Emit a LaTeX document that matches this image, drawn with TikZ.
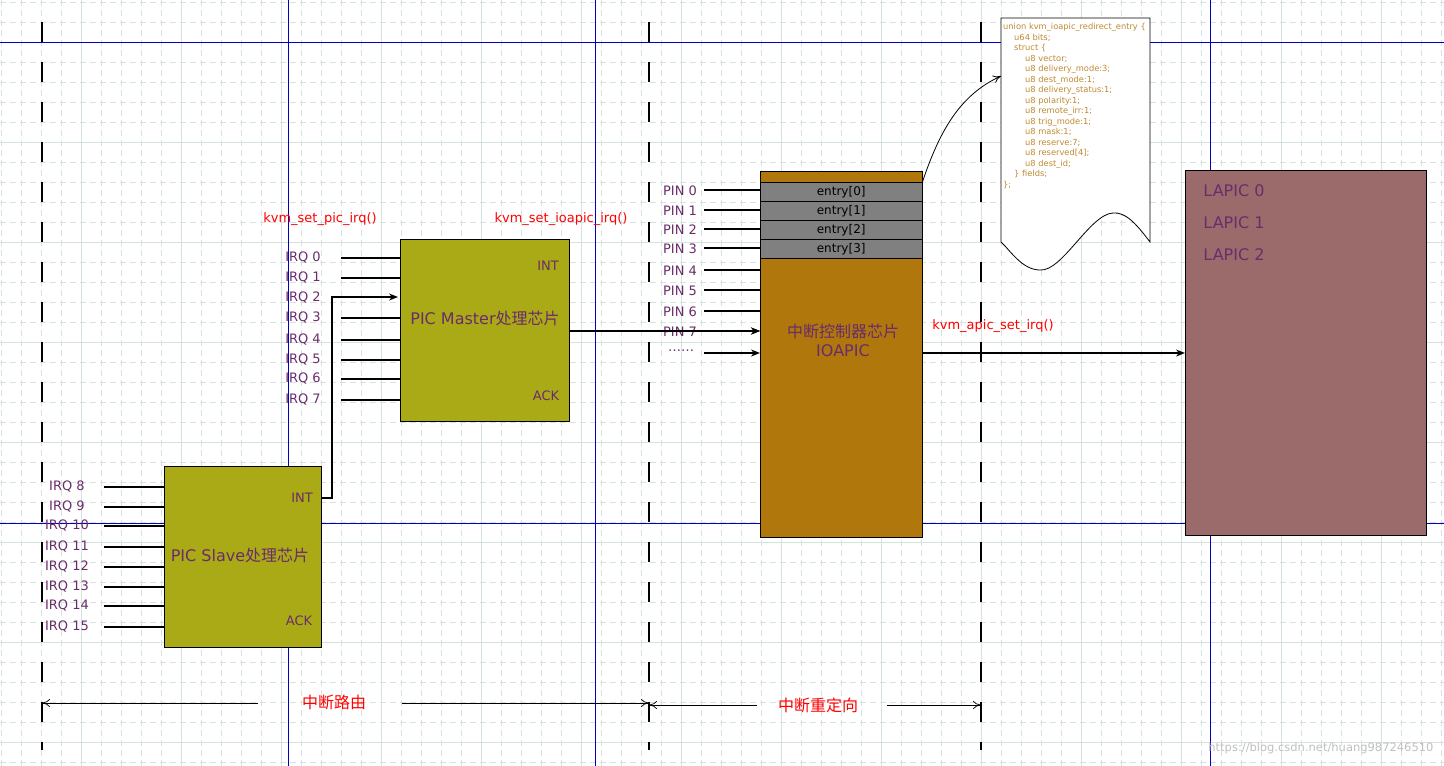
\documentclass[tikz,border=0pt]{standalone}
\usepackage{fontspec}
\setmainfont{DejaVu Sans}
\newfontfamily\cjk{Noto Sans CJK SC}
\usetikzlibrary{positioning,arrows.meta}
\definecolor{gridc}{HTML}{D6E2DE}
\definecolor{guide}{HTML}{0000C0}
\definecolor{olivebox}{HTML}{AAAA17}
\definecolor{ioabox}{HTML}{AF770C}
\definecolor{lapicbox}{HTML}{9B6B6B}
\definecolor{txtc}{HTML}{6A2C6A}
\definecolor{notec}{HTML}{C08A30}
\tikzset{
  chip/.style={draw=black, line width=0.8pt, anchor=north west, inner sep=0pt},
  lbl/.style={text=txtc, font=\fontsize{13}{15}\selectfont, inner sep=1pt},
  fn/.style={text=red, font=\fontsize{13}{15}\selectfont},
  wire/.style={line width=1.6pt},
  link/.style={line width=1.3pt, -{Stealth[length=9pt,width=7pt]}},
  span/.style={line width=0.7pt, -{To[length=8pt,width=8pt]}},
  entry/.style={draw=black, fill=gray, minimum width=162pt, minimum height=19pt,
    anchor=north west, inner sep=0pt, font=\fontsize{12}{14}\selectfont}
}
\begin{document}
\begin{tikzpicture}[x=1pt,y=-1pt]
    \useasboundingbox (0,0) rectangle (1444,766);
    % Grid
    \foreach \x in {1,21,...,1441} \draw[gridc, dashed, dash pattern=on 6pt off 4pt] (\x,0) -- (\x,766);
    \foreach \y in {2,22,...,762} \draw[gridc, dashed, dash pattern=on 6pt off 4pt] (0,\y) -- (1444,\y);
    \foreach \x in {81,181,...,1381} \draw[gridc, line width=1pt] (\x,0) -- (\x,766);
    \foreach \y in {42,142,...,742} \draw[gridc, line width=1pt] (0,\y) -- (1444,\y);
    \draw[guide, line width=1pt] (0,42) -- (1444,42);
    \draw[guide, line width=1pt] (0,523) -- (1444,523);
    \foreach \x in {288,595,1210} \draw[guide, line width=1pt] (\x,0) -- (\x,766);
    \foreach \x in {42,649,981}
        \draw[line width=2pt, dash pattern=on 20pt off 20pt] (\x,22) -- (\x,750);

    % Chips
    \node[chip, fill=olivebox, minimum width=157pt, minimum height=181pt] (slave) at (164,466) {};
    \node[lbl, font=\fontsize{16}{18}\selectfont] (slavet) at (240,555) {PIC Slave{\cjk 处理芯片}};
    \node[lbl] (sint) at (302,498) {INT};
    \node[lbl] (sack) at (299,621) {ACK};
    \node[chip, fill=olivebox, minimum width=169pt, minimum height=182pt] (master) at (400,239) {};
    \node[lbl, font=\fontsize{16}{18}\selectfont] (mastert) at (485,318) {PIC Master{\cjk 处理芯片}};
    \node[lbl] (mint) at (548,266) {INT};
    \node[lbl] (mack) at (546,396) {ACK};
    \node[chip, fill=ioabox, minimum width=162pt, minimum height=366pt] (ioapic) at (760,171) {};
    \foreach \i/\y in {0/182,1/201,2/220,3/239}
        \node[entry] (e\i) at (760,\y) {entry[\i]};
    \node[lbl, align=center, font=\fontsize{16}{19}\selectfont] (ioat) at (843,340) {{\cjk 中断控制器芯片}\\IOAPIC};
    \node[chip, fill=lapicbox, minimum width=241pt, minimum height=365pt] (lapic) at (1185,170) {};
    \foreach \i/\y in {0/191,1/223,2/255}
        \node[lbl, font=\fontsize{16}{18}\selectfont] (lp\i) at (1234,\y) {LAPIC \i};

    % IRQ lines
    \foreach \i/\y in {0/258,1/278,3/318,4/340,5/360,6/379,7/400} {
        \node[lbl] (irq\i) at (303,\y) {IRQ \i};
        \coordinate (w\i) at (341,\y);
        \draw[wire] (w\i) -- (w\i -| master.west);
    }
    \node[lbl] (irq2) at (303,298) {IRQ 2};
    \foreach \i/\y in {8/487,9/507,10/526,11/547,12/567,13/587,14/606,15/627} {
        \node[lbl] (irq\i) at (67,\y) {IRQ \i};
        \coordinate (w\i) at (104,\y);
        \draw[wire] (w\i) -- (w\i -| slave.west);
    }
    \foreach \i/\y in {0/190,1/210,2/229,3/248,4/270,5/290,6/311} {
        \node[lbl] (pin\i) at (680,\y+1) {PIN \i};
        \coordinate (p\i) at (704,\y);
        \draw[wire] (p\i) -- (p\i -| ioapic.west);
    }
    \node[lbl] (pin7) at (680,332) {PIN 7};
    \node[lbl] (pin8) at (681,351) {……};
    \coordinate (p7) at (704,331);
    \coordinate (p8) at (704,353);
    \draw[link] (p7) -- (p7 -| ioapic.west);
    \draw[link] (p8) -- (p8 -| ioapic.west);

    % Links
    \coordinate (bend) at (332,498);
    \draw[link] (slave.east |- bend) -- (bend) -- (332,297) -- (398,297);
    \coordinate (mout) at (569,331);
    \draw[link] (mout) -- (mout -| ioapic.west);
    \coordinate (iout) at (922,353);
    \draw[link] (iout) -- (iout -| lapic.west);
    \node[fn] (f1) at (320,219) {kvm\_set\_pic\_irq()};
    \node[fn] (f2) at (561,219) {kvm\_set\_ioapic\_irq()};
    \node[fn] (f3) at (993,326) {kvm\_apic\_set\_irq()};

    % Note
    \draw[line width=0.8pt, fill=white] (1001,18) -- (1150,18) -- (1150,242)
        .. controls (1135,222) and (1125,212) .. (1113,213)
        .. controls (1090,214) and (1062,272) .. (1040,270)
        .. controls (1022,270) and (1010,250) .. (1001,242) -- cycle;
    \node[anchor=north west, align=left, text=notec, inner sep=0pt,
        font=\fontsize{8.3}{10.5}\selectfont] (note) at (1003,23) {%
        union kvm\_ioapic\_redirect\_entry \{\\
        \hspace*{11pt}u64 bits;\\
        \hspace*{11pt}struct \{\\
        \hspace*{22pt}u8 vector;\\
        \hspace*{22pt}u8 delivery\_mode:3;\\
        \hspace*{22pt}u8 dest\_mode:1;\\
        \hspace*{22pt}u8 delivery\_status:1;\\
        \hspace*{22pt}u8 polarity:1;\\
        \hspace*{22pt}u8 remote\_irr:1;\\
        \hspace*{22pt}u8 trig\_mode:1;\\
        \hspace*{22pt}u8 mask:1;\\
        \hspace*{22pt}u8 reserve:7;\\
        \hspace*{22pt}u8 reserved[4];\\
        \hspace*{22pt}u8 dest\_id;\\
        \hspace*{11pt}\} fields;\\
        \};};
    \coordinate (nin) at (1001,76);
    \draw[span, line width=0.8pt] (e0.north east) .. controls (940,130) and (960,95) .. (nin);

    % Spans
    \node[fn, font=\fontsize{16}{18}\selectfont\cjk] (route) at (334,702) {中断路由};
    \node[fn, font=\fontsize{16}{18}\selectfont\cjk] (redir) at (818,705) {中断重定向};
    \coordinate (s0) at (42,703);
    \coordinate (s1) at (649,703);
    \coordinate (s2) at (981,705);
    \draw[span] (258,703) -- (s0);
    \draw[span] (402,703) -- (s1);
    \draw[span] (757,705) -- (s1 |- s2);
    \draw[span] (887,705) -- (s2);
    \node[text=gray!50, anchor=east, font=\fontsize{11.5}{13}\selectfont] (mark) at (1437,748) {https://blog.csdn.net/huang987246510};
\end{tikzpicture}
\end{document}
